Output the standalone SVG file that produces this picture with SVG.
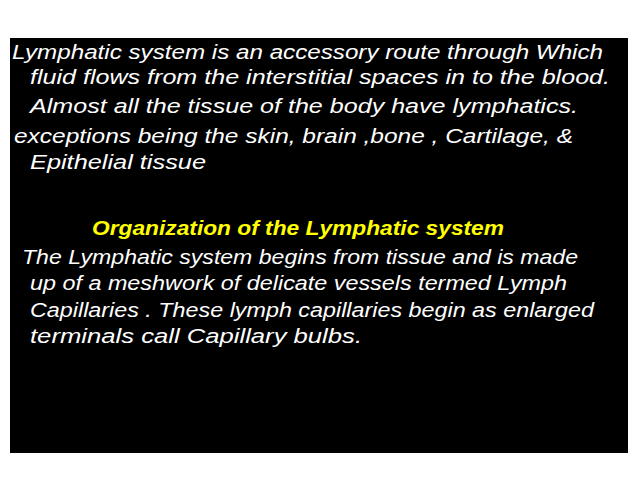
<svg xmlns="http://www.w3.org/2000/svg" width="638" height="479" viewBox="0 0 638 479">
<style>
text{font-family:"Liberation Sans",Arial,sans-serif;font-style:italic;font-size:20px;fill:#fff}
.h{fill:#ffff00;font-weight:bold}
</style>
<rect width="638" height="479" fill="#fff"/>
<rect x="10" y="38" width="618" height="415" fill="#000"/>
<g id="text" lengthAdjust="spacingAndGlyphs">
<text x="12" y="59" textLength="591" lengthAdjust="spacingAndGlyphs">Lymphatic system is an accessory route through Which</text>
<text x="30" y="84" textLength="580" lengthAdjust="spacingAndGlyphs">fluid flows from the interstitial spaces in to the blood.</text>
<text x="30" y="113" textLength="548" lengthAdjust="spacingAndGlyphs">Almost all the tissue of the body have  lymphatics.</text>
<text x="14" y="143" textLength="559" lengthAdjust="spacingAndGlyphs">exceptions being the skin, brain ,bone , Cartilage, &amp;</text>
<text x="30" y="169" textLength="176" lengthAdjust="spacingAndGlyphs">Epithelial tissue</text>
<text class="h" x="92" y="235" textLength="412" lengthAdjust="spacingAndGlyphs">Organization of the Lymphatic system</text>
<text x="22" y="264" textLength="556" lengthAdjust="spacingAndGlyphs">The Lymphatic system begins from tissue and is made</text>
<text x="30" y="290" textLength="537" lengthAdjust="spacingAndGlyphs">up of a meshwork of delicate vessels termed Lymph</text>
<text x="30" y="317" textLength="564" lengthAdjust="spacingAndGlyphs">Capillaries . These lymph capillaries begin as enlarged</text>
<text x="30" y="343" textLength="332" lengthAdjust="spacingAndGlyphs">terminals call Capillary bulbs.</text>
</g>
</svg>
